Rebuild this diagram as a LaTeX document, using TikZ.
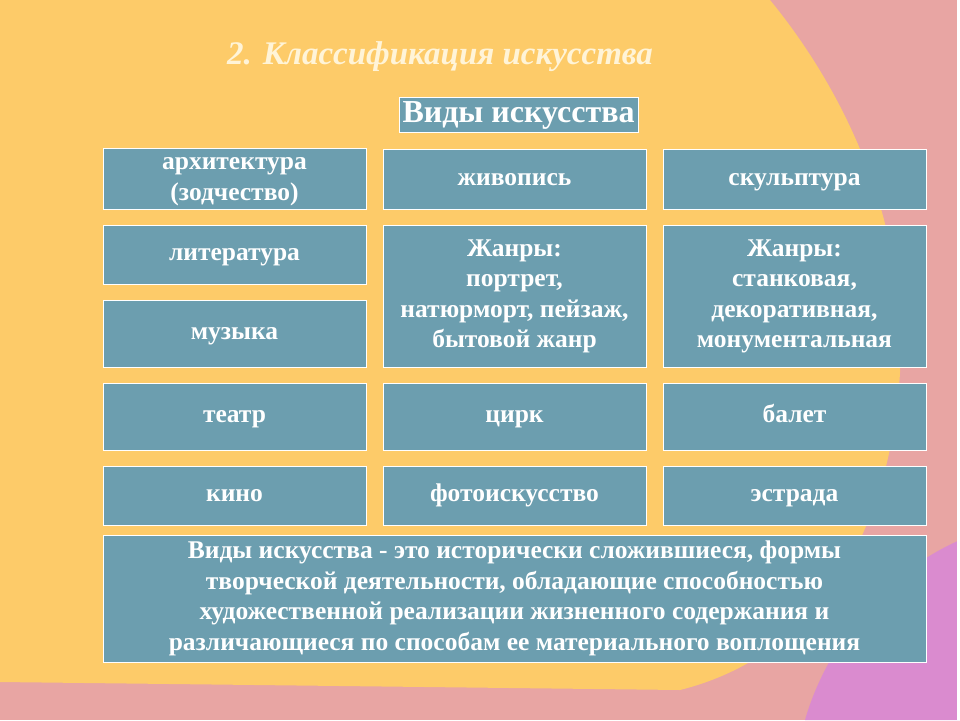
\documentclass[tikz,border=0pt]{standalone}
\usepackage{fontspec}
\setmainfont{Liberation Serif}
\definecolor{bgpink}{HTML}{E8A5A3}
\definecolor{bgyel}{HTML}{FDCB69}
\definecolor{bgmag}{HTML}{DA8BCF}
\definecolor{boxc}{HTML}{6C9EAF}
\definecolor{titc}{HTML}{FFF4D8}
\begin{document}
\begin{tikzpicture}[x=1pt,y=-1pt,
  bx/.style={draw=white,line width=0.8pt,fill=boxc,text=white,font=\bfseries\fontsize{25.5}{30.5}\selectfont,align=center,inner sep=0pt}]
\useasboundingbox (0,0) rectangle (960,720);
\fill[bgpink] (0,0) rectangle (960,720);
\fill[bgyel] (0,0) -- (770,0) .. controls (860,110) and (920,260) .. (895,420) .. controls (875,560) and (800,660) .. (680,690) -- (0,682) -- cycle;
\fill[bgmag] (960,540) .. controls (880,575) and (825,650) .. (805,720) -- (960,720) -- cycle;
\fill[white] (957,0) rectangle (960,720);
\node[text=titc,font=\bfseries\itshape\fontsize{33}{38}\selectfont] (title) at (440,57) {2. Классификация искусства};
\node[bx,font=\bfseries\fontsize{32}{36}\selectfont,minimum width=239,minimum height=35] (head) at (518.5,114.5) {\raisebox{0pt}[23pt][7pt]{Виды искусства}};
\newcommand{\bb}[6]{\node[bx,minimum width=#3-#2,minimum height=#5-#4] (#1) at ({(#2+#3)/2},{(#4+#5)/2}) {\strut#6\strut};}
\bb{a}{103}{366}{149}{209}{архитектура\\(зодчество)}
\bb{b}{383}{646}{149}{209}{живопись}
\bb{c}{663}{926}{149}{209}{скульптура}
\bb{d}{103}{366}{225}{284}{литература}
\bb{e}{103}{366}{300}{367}{музыка}
\bb{f}{383}{646}{225}{367}{Жанры:\\портрет,\\натюрморт, пейзаж,\\бытовой жанр}
\bb{g}{663}{926}{225}{367}{Жанры:\\станковая,\\декоративная,\\монументальная}
\bb{h}{103}{366}{383}{450}{театр}
\bb{i}{383}{646}{383}{450}{цирк}
\bb{j}{663}{926}{383}{450}{балет}
\bb{k}{103}{366}{466}{525}{кино}
\bb{l}{383}{646}{466}{525}{фотоискусство}
\bb{m}{663}{926}{466}{525}{эстрада}
\bb{n}{103}{926}{535}{662}{Виды искусства - это исторически сложившиеся, формы\\творческой деятельности, обладающие способностью\\художественной реализации жизненного содержания и\\различающиеся по способам ее материального воплощения}
\end{tikzpicture}
\end{document}
